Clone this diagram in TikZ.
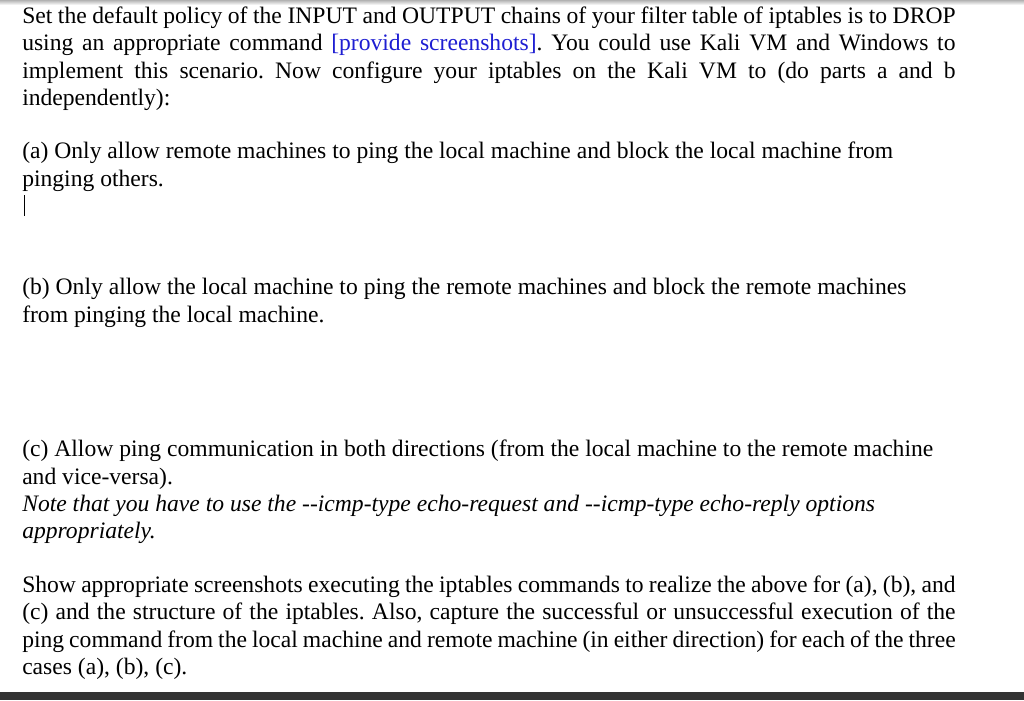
\documentclass[tikz,border=0pt]{standalone}
\usepackage{fontspec}
\setmainfont{Liberation Serif}
\frenchspacing
\definecolor{linkblue}{RGB}{30,30,210}
\newcommand{\jline}[1]{\hbox to 700pt{\spaceskip=0.25em plus 1fil minus 0.12em\relax #1}}
\begin{document}
\begin{tikzpicture}[x=0.75pt,y=-0.75pt,
  txt/.style={anchor=base west,inner sep=0pt,font=\fontsize{17.7}{20}\selectfont}]
\useasboundingbox (0,0) rectangle (1024,700);
\fill[white] (0,0) rectangle (1024,700);
\shade[top color=gray!60,bottom color=white] (0,0) rectangle (1024,5);
\fill[black!80] (0,692) rectangle (1024,700);
\node[txt] (l1) at (22,23) {\jline{Set the default policy of the INPUT and OUTPUT chains of your filter table of iptables is to DROP}};
\node[txt] (l2) at (22,50) {\jline{using an appropriate command \textcolor{linkblue}{[provide screenshots]}. You could use Kali VM and Windows to}};
\node[txt] (l3) at (22,78) {\jline{implement this scenario. Now configure your iptables on the Kali VM to (do parts a and b}};
\node[txt] (l4) at (22,105) {independently):};
\node[txt] (a1) at (22,158) {(a) Only allow remote machines to ping the local machine and block the local machine from};
\node[txt] (a2) at (22,186) {pinging others.};
\draw[black] (24,195) -- (24,216);
\node[txt] (b1) at (22,294) {(b) Only allow the local machine to ping the remote machines and block the remote machines};
\node[txt] (b2) at (22,322) {from pinging the local machine.};
\node[txt] (c1) at (22,456) {(c) Allow ping communication in both directions (from the local machine to the remote machine};
\node[txt] (c2) at (22,484) {and vice-versa).};
\node[txt] (c3) at (22,511) {\itshape Note that you have to use the -{}-icmp-type echo-request and -{}-icmp-type echo-reply options};
\node[txt] (c4) at (22,538) {\itshape appropriately.};
\node[txt] (s1) at (22,592) {\jline{Show appropriate screenshots executing the iptables commands to realize the above for (a), (b), and}};
\node[txt] (s2) at (22,619) {\jline{(c) and the structure of the iptables. Also, capture the successful or unsuccessful execution of the}};
\node[txt] (s3) at (22,647) {\jline{ping command from the local machine and remote machine (in either direction) for each of the three}};
\node[txt] (s4) at (22,674) {cases (a), (b), (c).};
\end{tikzpicture}
\end{document}
